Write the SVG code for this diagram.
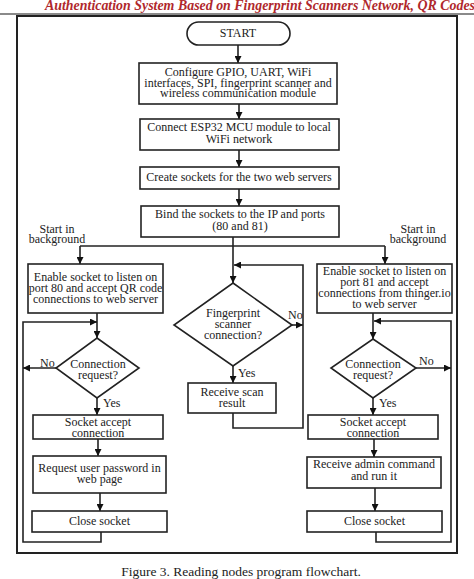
<svg xmlns="http://www.w3.org/2000/svg" width="474" height="579" viewBox="0 0 474 579">
<defs>
<marker id="ah" viewBox="0 0 10 10" refX="10" refY="5" markerWidth="7" markerHeight="7" markerUnits="userSpaceOnUse" orient="auto">
<path d="M0,0 L10,5 L0,10 z" fill="#111"/>
</marker>
<style>
.t{font-family:"Liberation Serif","Times New Roman",serif;font-size:12px;fill:#222;text-anchor:middle}
.l{font-family:"Liberation Serif","Times New Roman",serif;font-size:12px;fill:#222}
.b{fill:#fff;stroke:#222;stroke-width:1.6}
.c{fill:none;stroke:#222;stroke-width:1.6}
.a{fill:none;stroke:#222;stroke-width:1.6;marker-end:url(#ah)}
</style>
</defs>
<rect width="474" height="579" fill="#fff"/>
<text x="45" y="10" font-family="'Liberation Serif',serif" font-size="14" font-weight="bold" font-style="italic" fill="#b0282c" textLength="430" lengthAdjust="spacingAndGlyphs">Authentication System Based on Fingerprint Scanners Network, QR Codes</text>
<line x1="0" y1="14" x2="474" y2="14" stroke="#8a8a8a" stroke-width="2"/>
<rect x="17" y="16" width="440" height="537" fill="none" stroke="#222" stroke-width="2"/>

<g id="connectors">
<path class="a" d="M238,45 V63"/>
<path class="a" d="M239,104 V119"/>
<path class="a" d="M239,150 V167"/>
<path class="a" d="M239,189 V206"/>
<path class="a" d="M233,237 V283"/>
<path class="c" d="M80,246 H385"/>
<path class="a" d="M80,246 V264"/>
<path class="a" d="M385,246 V264"/>
<path class="a" d="M97,313 V338"/>
<path class="a" d="M101,532 V542 H23 V322 H97"/>
<path class="a" d="M56,368 H23"/>
<path class="a" d="M97,398 V415"/>
<path class="a" d="M98,439 V456"/>
<path class="a" d="M100,493 V511"/>
<path class="a" d="M233,366 V383"/>
<path class="a" d="M292,325 H303"/>
<path class="a" d="M233,413 V428 H303 V265 H234"/>
<path class="a" d="M373,313 V339"/>
<path class="a" d="M376,532 V542 H451 V321 H374"/>
<path class="a" d="M416,368 H451"/>
<path class="a" d="M373,398 V415"/>
<path class="a" d="M374,439 V457"/>
<path class="a" d="M375,488 V511"/>
</g>

<g id="start">
<rect class="b" x="187" y="22" width="103" height="23" rx="11.5"/>
<text class="t" x="238" y="37">START</text>
</g>
<g id="configure">
<rect class="b" x="139" y="63" width="198" height="41"/>
<text class="t" x="238" y="76">Configure GPIO, UART, WiFi</text>
<text class="t" x="238" y="86.5">interfaces, SPI, fingerprint scanner and</text>
<text class="t" x="238" y="97">wireless communication module</text>
</g>
<g id="connect">
<rect class="b" x="140" y="119" width="199" height="31"/>
<text class="t" x="239" y="131">Connect ESP32 MCU module to local</text>
<text class="t" x="239" y="143">WiFi network</text>
</g>
<g id="create">
<rect class="b" x="140" y="167" width="199" height="22"/>
<text class="t" x="239" y="181">Create sockets for the two web servers</text>
</g>
<g id="bind">
<rect class="b" x="141" y="206" width="198" height="31"/>
<text class="t" x="240" y="218">Bind the sockets to the IP and ports</text>
<text class="t" x="240" y="230">(80 and 81)</text>
</g>
<g id="bg-left">
<text class="t" x="57" y="233">Start in</text>
<text class="t" x="57" y="243">background</text>
</g>
<g id="bg-right">
<text class="t" x="418" y="233">Start in</text>
<text class="t" x="418" y="243">background</text>
</g>

<g id="listen80">
<rect class="b" x="28" y="264" width="135" height="49"/>
<text class="t" x="95.5" y="281">Enable socket to listen on</text>
<text class="t" x="95.5" y="292">port 80 and accept QR code</text>
<text class="t" x="95.5" y="303">connections to web server</text>
</g>
<g id="conn-left">
<polygon class="b" points="97,338 139,368 97,398 56,368"/>
<text class="t" x="98" y="368">Connection</text>
<text class="t" x="98" y="379">request?</text>
<text class="l" x="40" y="367">No</text>
<text class="l" x="103" y="407">Yes</text>
</g>
<g id="accept-left">
<rect class="b" x="33" y="415" width="130" height="24"/>
<text class="t" x="98" y="426">Socket accept</text>
<text class="t" x="98" y="437">connection</text>
</g>
<g id="password">
<rect class="b" x="33" y="456" width="133" height="37"/>
<text class="t" x="99.5" y="472">Request user password in</text>
<text class="t" x="99.5" y="483">web page</text>
</g>
<g id="close-left">
<rect class="b" x="32" y="511" width="135" height="21"/>
<text class="t" x="99.5" y="525">Close socket</text>
</g>

<g id="fingerprint">
<polygon class="b" points="233,283 292,325 233,366 174,325"/>
<text class="t" x="233" y="317">Fingerprint</text>
<text class="t" x="233" y="328">scanner</text>
<text class="t" x="233" y="339">connection?</text>
<text class="l" x="288" y="319">No</text>
<text class="l" x="238" y="377">Yes</text>
</g>
<g id="scan">
<rect class="b" x="188" y="383" width="88" height="30"/>
<text class="t" x="232" y="396">Receive scan</text>
<text class="t" x="232" y="407">result</text>
</g>

<g id="listen81">
<rect class="b" x="317" y="264" width="135" height="49"/>
<text class="t" x="384.5" y="275">Enable socket to listen on</text>
<text class="t" x="384.5" y="286">port 81 and accept</text>
<text class="t" x="384.5" y="297">connections from thinger.io</text>
<text class="t" x="384.5" y="307.5">to web server</text>
</g>
<g id="conn-right">
<polygon class="b" points="373,339 416,368 373,398 331,368"/>
<text class="t" x="373" y="368">Connection</text>
<text class="t" x="373" y="379">request?</text>
<text class="l" x="419" y="365">No</text>
<text class="l" x="379" y="407">Yes</text>
</g>
<g id="accept-right">
<rect class="b" x="308" y="415" width="130" height="24"/>
<text class="t" x="373" y="426">Socket accept</text>
<text class="t" x="373" y="437">connection</text>
</g>
<g id="admin">
<rect class="b" x="307" y="457" width="134" height="31"/>
<text class="t" x="374" y="468">Receive admin command</text>
<text class="t" x="374" y="480">and run it</text>
</g>
<g id="close-right">
<rect class="b" x="307" y="511" width="135" height="21"/>
<text class="t" x="374.5" y="525">Close socket</text>
</g>

<text x="241" y="576" font-family="'Liberation Serif',serif" font-size="13.5" fill="#222" text-anchor="middle">Figure 3. Reading nodes program flowchart.</text>
</svg>
